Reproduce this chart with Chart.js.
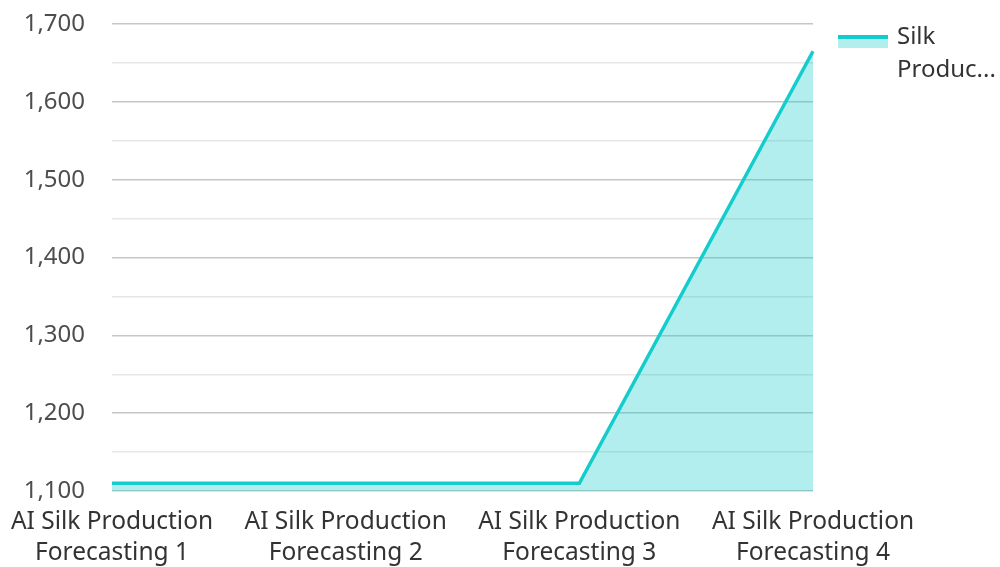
<!DOCTYPE html>
<html>
<head>
<meta charset="utf-8">
<script src="https://cdn.jsdelivr.net/npm/chart.js@4/dist/chart.umd.min.js"></script>
<style>
  html, body { margin: 0; padding: 0; background: #fff; }
  #wrap { width: 1000px; height: 567px; position: relative; }
</style>
</head>
<body>
<div id="wrap"><canvas id="chart"></canvas></div>
<script>
"use strict";

var categories = [
  ['AI Silk Production', 'Forecasting 1'],
  ['AI Silk Production', 'Forecasting 2'],
  ['AI Silk Production', 'Forecasting 3'],
  ['AI Silk Production', 'Forecasting 4']
];
var seriesName = 'Silk Production';
var legendLines = ['Silk', 'Produc...'];
var silkValues = [1110, 1110, 1110, 1665];
var yMin = 1100;
var yMax = 1700;

var lineColor = '#14cccc';
var fillColor = 'rgba(20, 204, 204, 0.33)';
var fontFamily = '"Noto Sans", "Open Sans", sans-serif';

// legend drawn by hand so the label can wrap like the reference
var sideLegend = {
  id: 'sideLegend',
  afterDraw: function(chart) {
    var ctx = chart.ctx;
    var x = 838, y = 36;
    ctx.save();
    ctx.fillStyle = fillColor;
    ctx.fillRect(x, y, 50, 12);
    ctx.fillStyle = lineColor;
    ctx.fillRect(x, y - 1, 50, 4);
    ctx.fillStyle = '#333';
    ctx.font = '24px ' + fontFamily;
    ctx.textBaseline = 'middle';
    legendLines.forEach(function(line, i) {
      ctx.fillText(line, 897, y + 1 + i * 33);
    });
    ctx.restore();
  }
};

new Chart(document.getElementById('chart'), {
  type: 'line',
  data: {
    labels: categories,
    datasets: [{
      label: seriesName,
      data: silkValues,
      borderColor: lineColor,
      backgroundColor: fillColor,
      borderWidth: 3.5,
      pointRadius: 0,
      tension: 0,
      fill: 'start'
    }]
  },
  options: {
    responsive: true,
    maintainAspectRatio: false,
    animation: false,
    layout: { padding: { top: 24, right: 187, left: 0, bottom: 0 } },
    plugins: {
      legend: { display: false },
      tooltip: { enabled: false }
    },
    scales: {
      x: {
        offset: false,
        grid: { display: false, drawTicks: false },
        border: { display: false },
        ticks: {
          color: '#333',
          font: { family: fontFamily, size: 24.5, lineHeight: 1.28 },
          padding: 15,
          maxRotation: 0,
          autoSkip: false
        },
        afterFit: function(scale) {
          scale.height = 76;
          scale.paddingLeft = 0;
          scale.paddingRight = 0;
        }
      },
      y: {
        min: yMin,
        max: yMax,
        border: { display: false },
        grid: {
          drawTicks: false,
          lineWidth: 1.5,
          color: function(ctx) {
            return ctx.tick && ctx.tick.value % 100 === 0 ? '#c6c6c6' : '#e6e6e6';
          }
        },
        ticks: {
          stepSize: 50,
          padding: 27,
          color: '#4d4d4d',
          font: { family: fontFamily, size: 24 },
          callback: function(v) {
            return v % 100 === 0 ? v.toLocaleString('en-US') : '';
          }
        },
        afterFit: function(scale) {
          scale.width = 112;
          scale.paddingTop = 0;
          scale.paddingBottom = 0;
        }
      }
    }
  },
  plugins: [sideLegend]
});
</script>
</body>
</html>
